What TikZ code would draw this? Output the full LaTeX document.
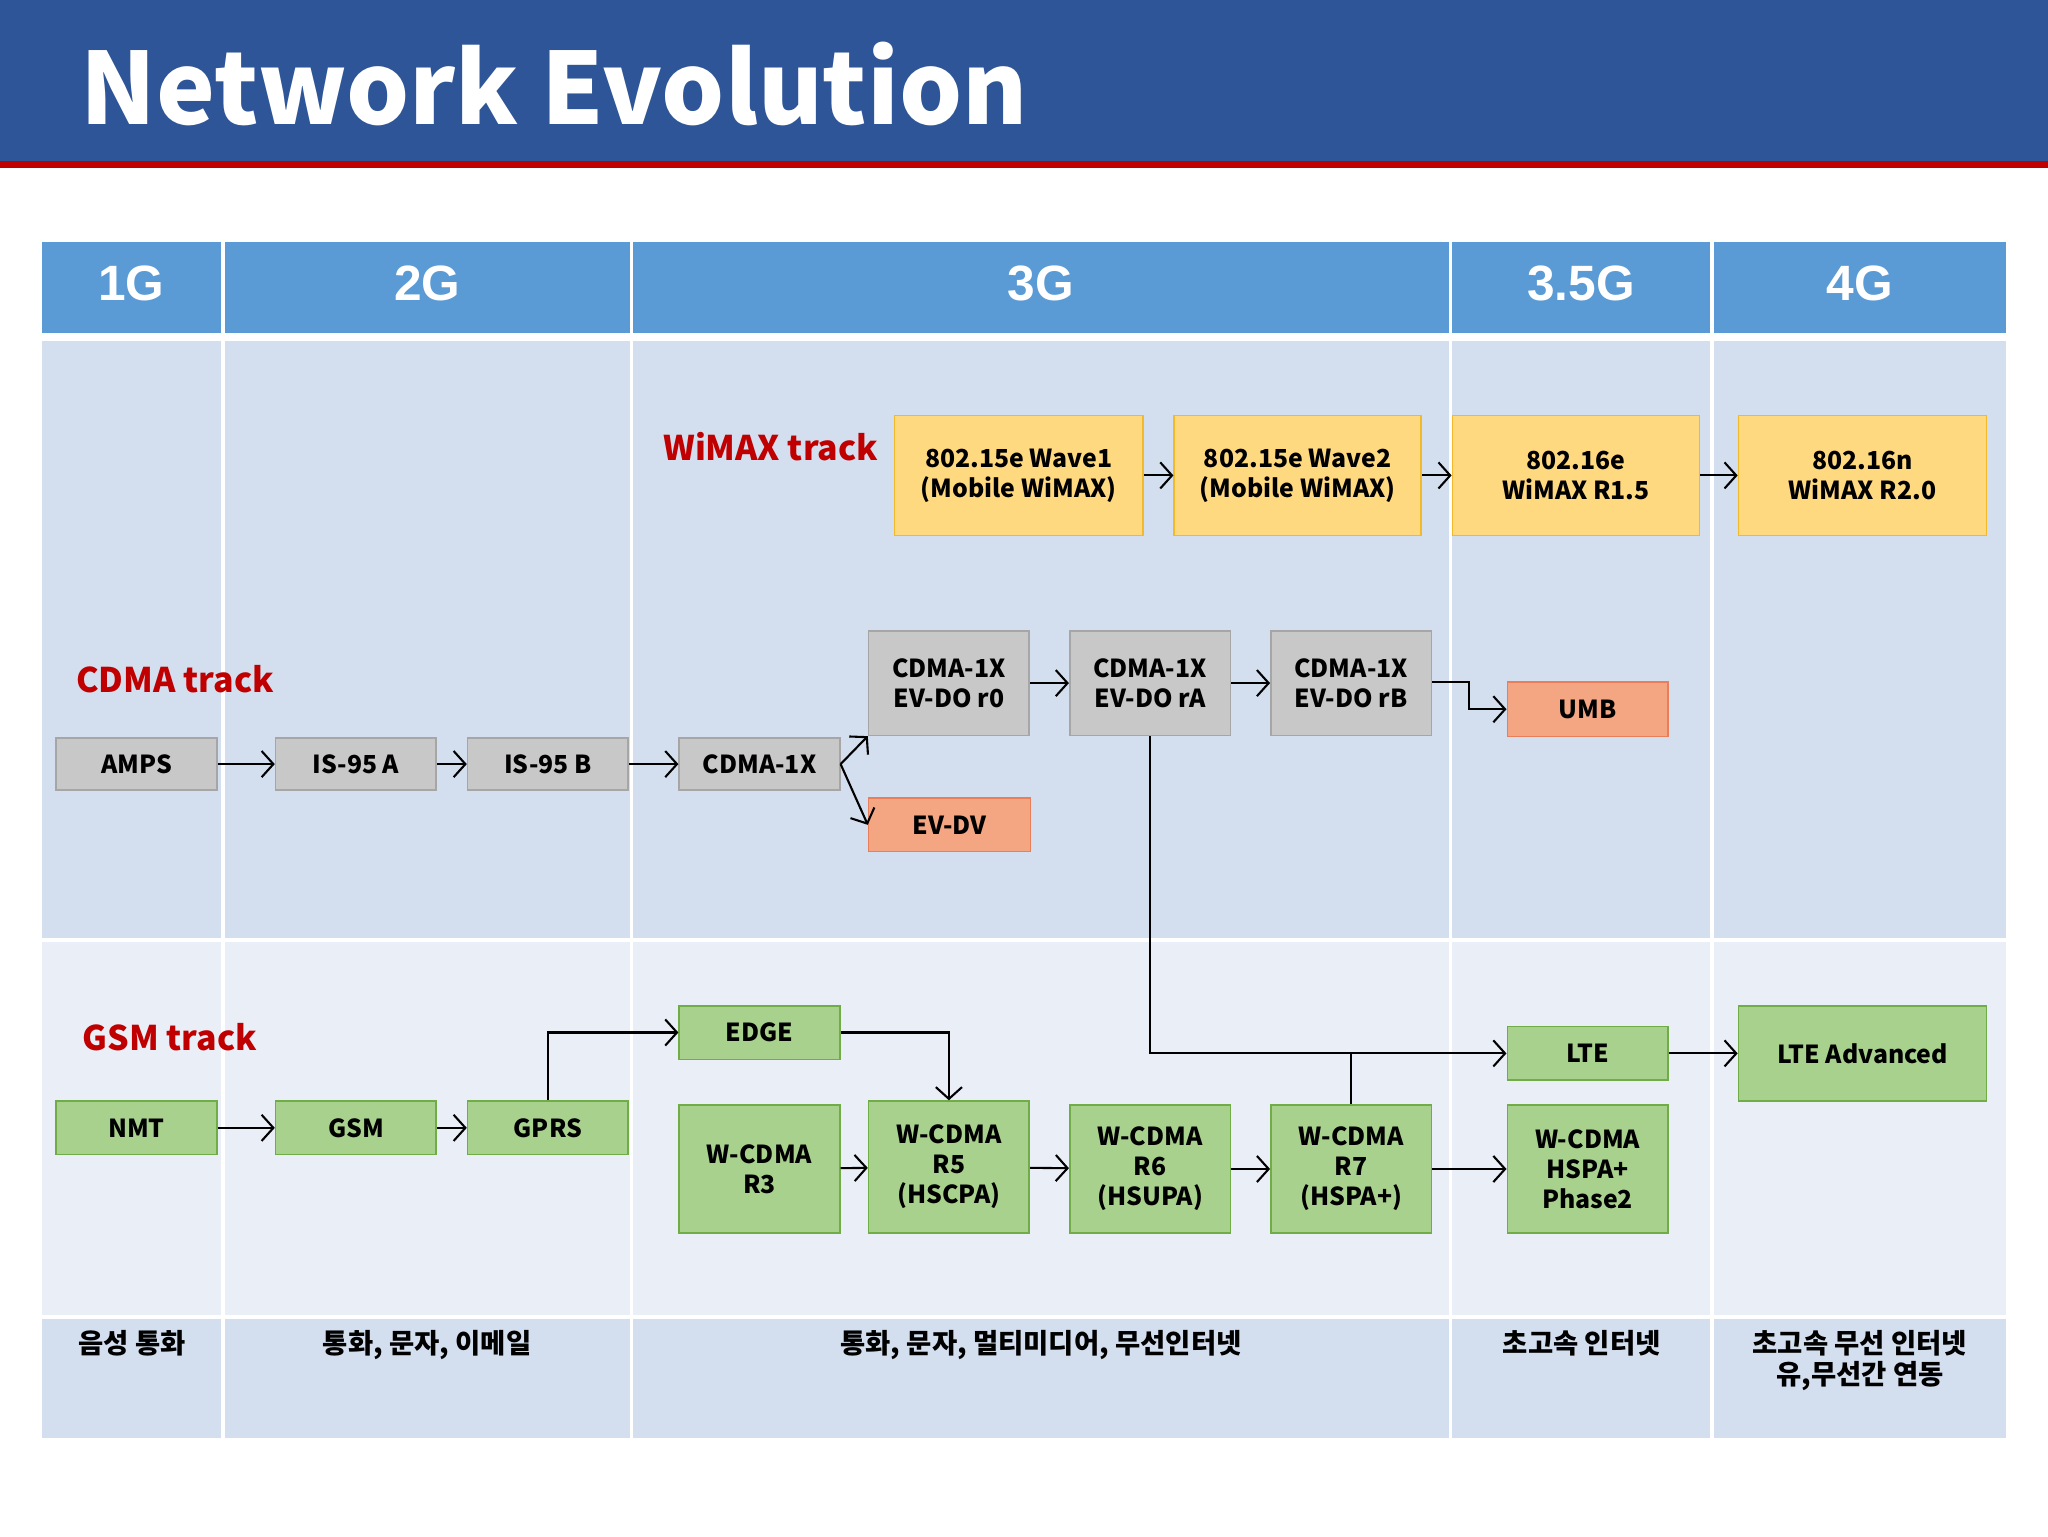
\documentclass[tikz,border=0pt]{standalone}
\usepackage{fontspec}
\setmainfont{Noto Sans CJK KR}
\newfontfamily\hdr{Liberation Sans}
\usetikzlibrary{arrows.meta}
\definecolor{tbar}{HTML}{2E5597}
\definecolor{tred}{HTML}{C00000}
\definecolor{hcell}{HTML}{5B9BD5}
\definecolor{bodyA}{HTML}{D3DFEE}
\definecolor{bodyB}{HTML}{E9EEF7}
\definecolor{yf}{HTML}{FFD97F}\definecolor{yd}{HTML}{F2B92A}
\definecolor{gf}{HTML}{C8C8C8}\definecolor{gd}{HTML}{A6A6A6}
\definecolor{sf}{HTML}{F4A582}\definecolor{sd}{HTML}{E97F5A}
\definecolor{nf}{HTML}{A9D18E}\definecolor{nd}{HTML}{70AD47}
\tikzset{
 bx/.style={draw,line width=1.2pt,align=center,inner sep=0pt,font=\fontsize{19}{23}\selectfont\bfseries},
 yb/.style={bx,fill=yf,draw=yd},
 gb/.style={bx,fill=gf,draw=gd},
 sb/.style={bx,fill=sf,draw=sd},
 nb/.style={bx,fill=nf,draw=nd},
 ar/.style={line width=1.6pt,-{Straight Barb[length=9pt,width=20pt,line width=1.6pt]}},
 trk/.style={text=tred,font=\fontsize{26}{30}\selectfont\bfseries},
 btm/.style={font=\fontsize{21}{25}\selectfont\bfseries,align=center,anchor=north},
 hd/.style={text=white,font=\hdr\fontsize{38}{40}\selectfont\bfseries}
}
\newcommand{\bxn}[6]{\node[#1,minimum width={(#4)-(#3)},minimum height={(#6)-(#5)}] (#2) at ({((#3)+(#4))/2},{((#5)+(#6))/2})}
\begin{document}
\begin{tikzpicture}[x=1pt,y=-1pt]
\useasboundingbox (0,0) rectangle (1568,1176);
\fill[white] (0,0) rectangle (1568,1176);
\fill[tbar] (0,0) rectangle (1568,123);
\fill[tred] (0,123) rectangle (1568,129);
\node[anchor=west,text=white,font=\fontsize{76}{80}\selectfont\bfseries] (title) at (58,64) {Network Evolution};
% columns
\foreach \a/\b/\t [count=\i] in {32/169/1G,172/482/2G,485/1109/3G,1112/1309/3.5G,1312/1536/4G}{
 \fill[hcell] (\a,185) rectangle (\b,255);
 \node[hd] (h\i) at ({(\a+\b)/2},217) {\t};
 \fill[bodyA] (\a,261) rectangle (\b,718);
 \fill[bodyB] (\a,721) rectangle (\b,1007);
 \fill[bodyA] (\a,1010) rectangle (\b,1101);
}
\node[trk] (tw) at (590,342) {WiMAX track};
\node[trk] (tc) at (134,520) {CDMA track};
\node[trk] (tg) at (130,794) {GSM track};
% wimax
\bxn{yb}{w1}{685}{875}{318}{410}{802.15e Wave1\\(Mobile WiMAX)};
\bxn{yb}{w2}{899}{1088}{318}{410}{802.15e Wave2\\(Mobile WiMAX)};
\bxn{yb}{w3}{1112}{1301}{318}{410}{802.16e\\WiMAX R1.5};
\bxn{yb}{w4}{1331}{1521}{318}{410}{802.16n\\WiMAX R2.0};
% cdma
\bxn{gb}{amps}{43}{166}{565}{605}{AMPS};
\bxn{gb}{isa}{211}{334}{565}{605}{IS-95 A};
\bxn{gb}{isb}{358}{481}{565}{605}{IS-95 B};
\bxn{gb}{c1x}{520}{643}{565}{605}{CDMA-1X};
\bxn{gb}{r0}{665}{788}{483}{563}{CDMA-1X\\EV-DO r0};
\bxn{gb}{ra}{819}{942}{483}{563}{CDMA-1X\\EV-DO rA};
\bxn{gb}{rb}{973}{1096}{483}{563}{CDMA-1X\\EV-DO rB};
\bxn{sb}{umb}{1154}{1277}{522}{564}{UMB};
\bxn{sb}{evdv}{665}{789}{611}{652}{EV-DV};
% gsm
\bxn{nb}{nmt}{43}{166}{843}{884}{NMT};
\bxn{nb}{gsm}{211}{334}{843}{884}{GSM};
\bxn{nb}{gprs}{358}{481}{843}{884}{GPRS};
\bxn{nb}{edge}{520}{643}{770}{811}{EDGE};
\bxn{nb}{r3}{520}{643}{846}{944}{W-CDMA\\R3};
\bxn{nb}{r5}{665}{788}{843}{944}{W-CDMA\\R5\\(HSCPA)};
\bxn{nb}{r6}{819}{942}{846}{944}{W-CDMA\\R6\\(HSUPA)};
\bxn{nb}{r7}{973}{1096}{846}{944}{W-CDMA\\R7\\(HSPA+)};
\bxn{nb}{hp}{1154}{1277}{846}{944}{W-CDMA\\HSPA+\\Phase2};
\bxn{nb}{lte}{1154}{1277}{786}{827}{LTE};
\bxn{nb}{ltea}{1331}{1521}{770}{843}{LTE Advanced};
% arrows
\draw[ar] (w1) -- (w2); \draw[ar] (w2) -- (w3); \draw[ar] (w3) -- (w4);
\draw[ar] (amps) -- (isa); \draw[ar] (isa) -- (isb); \draw[ar] (isb) -- (c1x);
\draw[ar] (c1x.east) -- (r0.south west);
\draw[ar] (c1x.east) -- (evdv.west);
\draw[ar] (r0) -- (ra); \draw[ar] (ra) -- (rb);
\draw[ar] (rb.east |- 0,522) -| (1125,543) -- (umb.west);
\draw[ar] (ra.south) |- (lte.west);
\draw[line width=1.6pt] (r7.north) -- (r7.north |- lte.west);
\draw[ar] (lte) -- (ltea);
\draw[ar] (nmt) -- (gsm); \draw[ar] (gsm) -- (gprs);
\draw[ar] (gprs.north) |- (edge.west);
\draw[ar] (edge.east) -| (r5.north);
\draw[ar] (r3) -- (r5); \draw[ar] (r5) -- (r6); \draw[ar] (r6) -- (r7); \draw[ar] (r7) -- (hp);
% bottom
\node[btm] (b1) at (101,1015) {음성 통화};
\node[btm] (b2) at (327,1015) {통화, 문자, 이메일};
\node[btm] (b3) at (797,1015) {통화, 문자, 멀티미디어, 무선인터넷};
\node[btm] (b4) at (1211,1015) {초고속 인터넷};
\node[btm,font=\fontsize{21}{24}\selectfont\bfseries] (b5) at (1424,1015) {초고속 무선 인터넷\\유,무선간 연동};
\end{tikzpicture}
\end{document}
